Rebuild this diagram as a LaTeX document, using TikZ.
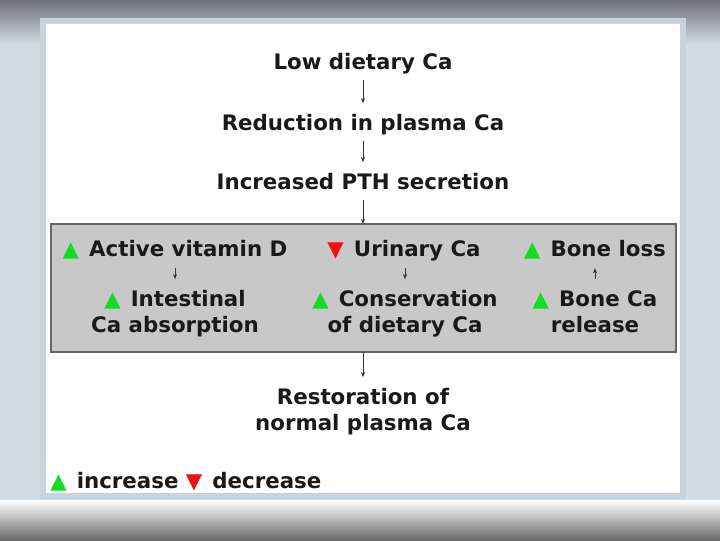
\documentclass[tikz,border=0pt]{standalone}
\usepackage{fontspec}
\setmainfont{DejaVu Sans}
\usetikzlibrary{arrows.meta}
\definecolor{upGreen}{HTML}{11DD22}
\definecolor{downRed}{HTML}{EE1111}
\definecolor{panelEdge}{HTML}{C9D3DD}
\definecolor{slideTop}{HTML}{6B7079}
\definecolor{slideBody}{HTML}{D4DCE3}
\definecolor{slideBottom}{HTML}{6A6A6C}
\definecolor{boxFill}{HTML}{C8C8C8}
\definecolor{boxEdge}{HTML}{666666}
\newcommand{\up}{\textcolor{upGreen}{▲}\hspace{2pt}}
\newcommand{\down}{\textcolor{downRed}{▼}\hspace{2pt}}

\begin{document}
\begin{tikzpicture}[x=0.75pt, y=-0.75pt,
            stepText/.style={inner sep=0pt, align=center, text=black!90, text depth=0.25em,
                font=\fontsize{16}{19.5}\selectfont\bfseries},
            flowArrow/.style={-{Stealth[length=4pt,width=3pt]}, draw=black!80, line width=0.6pt}]

            \useasboundingbox (0,0) rectangle (720,540);
            \fill[slideBody] (0,0) rectangle (720,540);
            \shade[top color=slideTop, bottom color=slideBody] (0,0) rectangle (720,45);
            \shade[top color=white, bottom color=slideBottom] (0,500) rectangle (720,540);
            \draw[panelEdge, line width=4.5pt, fill=white] (43,21) rectangle (683,496);

            \draw[boxEdge, line width=1.5pt, fill=boxFill] (51,224) rectangle (676,352);

            \node [stepText](lowCa) at (363,63){Low dietary Ca};
            \node [stepText](reduction) at (363,124){Reduction in plasma Ca};
            \node [stepText](pth) at (363,183){Increased PTH secretion};
            \coordinate (boxTop) at (363,224);
            \coordinate (boxBottom) at (363,352);

            \node [stepText](vitD) at (175,250){\up\ Active vitamin D};
            \node [stepText](intestinal) at (175,313){\up\ Intestinal\\Ca absorption};
            \node [stepText](urinary) at (404,250){\down\ Urinary Ca};
            \node [stepText](conservation) at (405,313){\up\ Conservation\\of dietary Ca};
            \node [stepText](boneLoss) at (595,250){\up\ Bone loss};
            \node [stepText](boneCa) at (595,313){\up\ Bone Ca\\release};

            \node [stepText](restoration) at (363,411){Restoration of\\normal plasma Ca};
            \node [stepText, anchor=west](legend) at (50,482){\up\ increase \down\ decrease};

            \draw[flowArrow, shorten <=5pt, shorten >=8pt] (lowCa) -- (reduction);
            \draw[flowArrow, shorten <=5pt, shorten >=8pt] (reduction) -- (pth);
            \draw[flowArrow, shorten <=5pt] (pth) -- (boxTop);
            \draw[flowArrow, shorten >=8pt] (boxBottom) -- (restoration);
            \draw[flowArrow, shorten <=6pt, shorten >=8pt] (vitD.south -| intestinal) -- (intestinal);
            \draw[flowArrow, shorten <=6pt, shorten >=8pt] (urinary.south -| conservation) -- (conservation);
            \draw[flowArrow, shorten <=8pt, shorten >=6pt] (boneCa.north) -- (boneLoss.south -| boneCa);
        \end{tikzpicture}
\end{document}
